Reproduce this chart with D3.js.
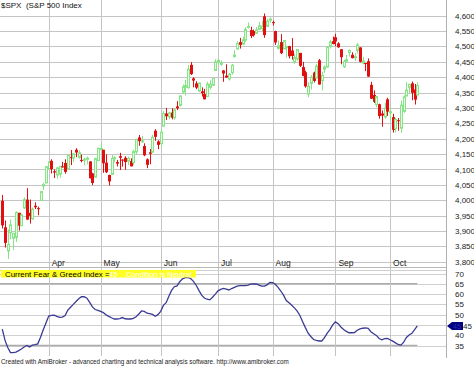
<!DOCTYPE html>
<html><head><meta charset="utf-8">
<script src="https://cdn.jsdelivr.net/npm/d3@7/dist/d3.min.js"></script>
<style>html,body{margin:0;padding:0;background:#fff;overflow:hidden}svg{display:block}text{font-family:Arial,"Liberation Sans",sans-serif;white-space:pre}</style>
</head><body><svg id="c" width="474" height="366"></svg>
<script>
const dates = [
"2023-03-09","2023-03-10","2023-03-13","2023-03-14","2023-03-15","2023-03-16","2023-03-17","2023-03-20","2023-03-21","2023-03-22","2023-03-23","2023-03-24","2023-03-27","2023-03-28","2023-03-29","2023-03-30","2023-03-31",
"2023-04-03","2023-04-04","2023-04-05","2023-04-06","2023-04-10","2023-04-11","2023-04-12","2023-04-13","2023-04-14","2023-04-17","2023-04-18","2023-04-19","2023-04-20","2023-04-21","2023-04-24","2023-04-25","2023-04-26","2023-04-27","2023-04-28",
"2023-05-01","2023-05-02","2023-05-03","2023-05-04","2023-05-05","2023-05-08","2023-05-09","2023-05-10","2023-05-11","2023-05-12","2023-05-15","2023-05-16","2023-05-17","2023-05-18","2023-05-19","2023-05-22","2023-05-23","2023-05-24","2023-05-25","2023-05-26","2023-05-30","2023-05-31",
"2023-06-01","2023-06-02","2023-06-05","2023-06-06","2023-06-07","2023-06-08","2023-06-09","2023-06-12","2023-06-13","2023-06-14","2023-06-15","2023-06-16","2023-06-20","2023-06-21","2023-06-22","2023-06-23","2023-06-26","2023-06-27","2023-06-28","2023-06-29","2023-06-30",
"2023-07-03","2023-07-05","2023-07-06","2023-07-07","2023-07-10","2023-07-11","2023-07-12","2023-07-13","2023-07-14","2023-07-17","2023-07-18","2023-07-19","2023-07-20","2023-07-21","2023-07-24","2023-07-25","2023-07-26","2023-07-27","2023-07-28","2023-07-31",
"2023-08-01","2023-08-02","2023-08-03","2023-08-04","2023-08-07","2023-08-08","2023-08-09","2023-08-10","2023-08-11","2023-08-14","2023-08-15","2023-08-16","2023-08-17","2023-08-18","2023-08-21","2023-08-22","2023-08-23","2023-08-24","2023-08-25","2023-08-28","2023-08-29","2023-08-30","2023-08-31",
"2023-09-01","2023-09-05","2023-09-06","2023-09-07","2023-09-08","2023-09-11","2023-09-12","2023-09-13","2023-09-14","2023-09-15","2023-09-18","2023-09-19","2023-09-20","2023-09-21","2023-09-22","2023-09-25","2023-09-26","2023-09-27","2023-09-28","2023-09-29",
"2023-10-02","2023-10-03","2023-10-04","2023-10-05","2023-10-06","2023-10-09","2023-10-10","2023-10-11","2023-10-12","2023-10-13","2023-10-16"];

const open = [3998,3912,3835,3894,3876,3879,3959,3917,3975,4002,3959,3939,3982,3974,3999,4046,4056,
4102,4128,4094,4082,4085,4110,4121,4101,4140,4137,4164,4139,4131,4132,4133,4126,4087,4075,4129,
4166,4164,4122,4082,4084,4136,4124,4143,4132,4138,4127,4127,4122,4157,4204,4191,4176,4133,4156,4156,4226,4191,
4184,4241,4282,4271,4285,4268,4305,4308,4352,4367,4366,4440,4396,4380,4355,4354,4345,4337,4367,4374,4422,
4450,4442,4422,4405,4394,4415,4467,4492,4514,4508,4521,4563,4553,4550,4543,4556,4558,4598,4565,4585,
4579,4550,4494,4514,4492,4498,4501,4487,4450,4459,4479,4433,4416,4345,4380,4415,4397,4455,4389,4426,4433,4500,4517,
4530,4510,4491,4434,4452,4480,4473,4463,4487,4497,4446,4446,4452,4375,4342,4311,4312,4282,4270,4328,
4284,4270,4233,4260,4234,4289,4339,4367,4380,4360,4342];
const high = [4017,3934,3905,3937,3894,3964,3959,3956,4009,4039,4002,3976,3993,3979,4030,4057,4110,
4128,4133,4100,4108,4110,4125,4133,4150,4163,4152,4169,4162,4148,4138,4142,4127,4089,4138,4170,
4187,4164,4149,4083,4147,4143,4131,4154,4133,4143,4142,4136,4164,4198,4212,4209,4185,4136,4166,4213,4231,4195,
4232,4290,4300,4288,4299,4298,4322,4340,4376,4391,4439,4449,4400,4387,4383,4367,4362,4385,4390,4398,4458,
4456,4454,4423,4442,4413,4443,4488,4517,4528,4532,4562,4578,4564,4555,4563,4580,4583,4607,4590,4595,
4584,4551,4519,4540,4520,4503,4502,4527,4476,4490,4479,4450,4421,4384,4407,4418,4443,4459,4418,4439,4500,4521,4532,
4541,4514,4491,4457,4473,4490,4481,4479,4511,4497,4466,4446,4461,4385,4357,4338,4314,4292,4317,4333,
4300,4281,4268,4267,4324,4341,4385,4378,4386,4378,4383];
const low = [3908,3846,3809,3873,3838,3864,3901,3917,3971,3936,3924,3937,3971,3951,3999,4033,4056,
4101,4087,4072,4070,4073,4106,4086,4099,4114,4124,4140,4135,4123,4113,4117,4071,4049,4075,4128,
4164,4089,4088,4048,4084,4123,4110,4098,4109,4099,4114,4110,4114,4150,4177,4186,4143,4104,4117,4155,4193,4166,
4173,4241,4261,4263,4263,4262,4293,4305,4346,4340,4362,4407,4367,4361,4352,4337,4328,4336,4360,4372,4422,
4443,4437,4385,4398,4389,4408,4464,4489,4493,4504,4515,4558,4527,4532,4541,4553,4547,4528,4564,4577,
4568,4505,4490,4475,4492,4464,4461,4457,4443,4453,4433,4403,4366,4335,4360,4383,4397,4376,4357,4414,4431,4493,4507,
4501,4496,4442,4430,4448,4467,4461,4453,4477,4448,4442,4420,4401,4329,4316,4302,4265,4239,4265,4274,
4260,4220,4220,4226,4219,4284,4339,4346,4325,4311,4342];
const close = [3918,3861,3856,3920,3892,3960,3917,3952,4002,3937,3949,3971,3977,3971,4028,4051,4109,
4125,4101,4090,4105,4110,4109,4092,4146,4138,4151,4155,4154,4130,4133,4137,4071,4056,4135,4169,
4168,4120,4091,4061,4136,4138,4119,4138,4131,4124,4136,4110,4158,4198,4192,4193,4146,4115,4151,4205,4206,4180,
4221,4282,4273,4284,4268,4294,4299,4339,4369,4373,4426,4410,4389,4366,4381,4348,4328,4378,4377,4396,4450,
4455,4447,4412,4399,4410,4439,4472,4510,4505,4522,4555,4565,4534,4536,4554,4567,4566,4537,4582,4589,
4577,4513,4502,4478,4519,4499,4468,4469,4464,4490,4437,4404,4370,4370,4400,4388,4436,4376,4406,4433,4497,4515,4508,
4516,4497,4465,4451,4457,4487,4462,4467,4505,4450,4453,4444,4402,4330,4320,4337,4274,4275,4300,4288,
4288,4229,4263,4258,4309,4336,4358,4377,4349,4327,4373];

const fearGreed = [43,37.5,34,31.6,31.5,31.8,32.5,33.3,34.3,35,34.3,35.2,35.4,35.8,39,42.7,46,
49.3,49.7,49.8,49.2,48.7,48.8,49.6,52.2,53.6,55,56.4,57.7,58.7,58.7,58,56,53.8,52.5,52.1,
51.6,51,49.9,49.2,48.5,47.9,47.9,48.1,48.6,48,47.9,47.9,48.2,49,50.3,51.8,51.6,50.7,50.5,50.1,49.2,50,
51.6,54.5,55.8,59,61.8,63.6,64,66,67.4,68,68,67.6,66.2,64.3,61.8,59.5,58.1,57.5,57.2,58.5,60,
61.6,62.3,62.8,62.4,62,62.7,63.3,63.9,64.1,64.1,64.1,64.4,64.8,64.9,64.9,64.4,63.9,63.9,64.5,65.7,
65.6,64.8,63.3,61.5,59.5,56.9,55.8,54.6,53.3,51.7,49.6,46.6,43.7,41,39.4,37.9,37.5,37.2,37.2,38.8,41,42.7,45,
46.5,45.6,44,42.8,41.9,41.2,41.2,41.3,42.4,43.1,43.4,43.6,43.3,41.7,40.7,39.9,38.4,37.8,38.3,38.4,
37.8,37.1,36.3,35.5,35.2,36.6,38.9,40.1,40.9,42.7,44.5];

const priceTicks = [3800,3850,3900,3950,4000,4050,4100,4150,4200,4250,4300,4350,4400,4450,4500,4550,4600];
const fgTicks = [35,40,45,50,55,60,65,70];
const fgBands = [65,35];
const monthNames = ["Jan","Feb","Mar","Apr","May","Jun","Jul","Aug","Sep","Oct","Nov","Dec"];
const title = "$SPX  (S&P 500 Index";
const legendLabel = "Current Fear & Greed Index =";
const legendValue = "45";
const legendCondition = "Condition is Neutral";
const footer = "Created with AmiBroker - advanced charting and technical analysis software. http://www.amibroker.com";

const svg = d3.select("#c");
const W = 446, upBot = 267, loTop = 270, loBot = 356;
const x = d3.scaleLinear().domain([-0.84, 162.5]).range([0, W]);
const yP = d3.scaleLinear().domain([3779.5, 4651]).range([268, 0]);
const yF = d3.scaleLinear().domain([29.9, 72.2]).range([356, 269]);
const grid = "#c4c4c4";

const monthStarts = [];
dates.forEach((d,i)=>{ if(i>0 && d.slice(5,7)!==dates[i-1].slice(5,7)) monthStarts.push(i); });

svg.append("g").selectAll("line").data(priceTicks).join("line")
  .attr("x1",0).attr("x2",W).attr("y1",d=>Math.round(yP(d))+0.5).attr("y2",d=>Math.round(yP(d))+0.5)
  .attr("stroke",grid).attr("stroke-width",1);
svg.append("g").selectAll("line").data(fgTicks).join("line")
  .attr("x1",0).attr("x2",W).attr("y1",d=>Math.round(yF(d))+0.5).attr("y2",d=>Math.round(yF(d))+0.5)
  .attr("stroke","#d0d0d0").attr("stroke-width",1);
svg.append("g").selectAll("line").data(fgBands).join("line")
  .attr("x1",0).attr("x2",x(dates.length-1)).attr("y1",d=>yF(d)).attr("y2",d=>yF(d))
  .attr("stroke","#ababab").attr("stroke-width",1.6);
svg.append("g").selectAll("line").data(monthStarts).join("line")
  .attr("x1",d=>Math.round(x(d))+0.5).attr("x2",d=>Math.round(x(d))+0.5).attr("y1",0).attr("y2",loBot)
  .attr("stroke",grid);
svg.append("line").attr("x1",0).attr("x2",W).attr("y1",upBot+0.5).attr("y2",upBot+0.5).attr("stroke","#b8b8b8");
svg.append("line").attr("x1",0).attr("x2",W).attr("y1",loTop+0.5).attr("y2",loTop+0.5).attr("stroke","#d0d0d0");
svg.append("line").attr("x1",W+0.5).attr("x2",W+0.5).attr("y1",0).attr("y2",loBot+2).attr("stroke","#b0b0b0");

svg.append("g").selectAll("text").data(monthStarts).join("text")
  .attr("x",d=>x(d)+3).attr("y",266).attr("font-size",8.5).attr("fill","#222")
  .text(d=>monthNames[+dates[d].slice(5,7)-1]);

const idx = d3.range(dates.length);
const up = i => close[i] > open[i];
const gC = svg.append("g");
gC.selectAll("line").data(idx).join("line")
  .attr("x1",i=>Math.round(x(i))+0.5).attr("x2",i=>Math.round(x(i))+0.5)
  .attr("y1",i=>yP(high[i])).attr("y2",i=>yP(low[i]))
  .attr("stroke",i=>up(i)?"#86e486":"#e01010").attr("stroke-width",1);
gC.selectAll("rect").data(idx).join("rect")
  .attr("x",i=>up(i)?Math.round(x(i))-0.5:Math.round(x(i))-1)
  .attr("width",i=>up(i)?2:3)
  .attr("y",i=>yP(Math.max(open[i],close[i])))
  .attr("height",i=>Math.max(1,Math.abs(yP(open[i])-yP(close[i]))))
  .attr("fill",i=>up(i)?"#eafcea":"#e01010")
  .attr("stroke",i=>up(i)?"#86e486":"none").attr("stroke-width",1);

const axP = svg.append("g").attr("transform",`translate(${W},0)`)
  .call(d3.axisRight(yP).tickValues(priceTicks).tickSize(0).tickPadding(9).tickFormat(d3.format(",")));
axP.select(".domain").remove();
axP.selectAll("text").attr("font-size",8).attr("fill","#222").attr("font-family","Arial, 'Liberation Sans', sans-serif");

svg.append("path").datum(idx)
  .attr("d", d3.line().x(i=>x(i)).y(i=>yF(fearGreed[i])))
  .attr("fill","none").attr("stroke","#3b3b94").attr("stroke-width",1.3);

const axF = svg.append("g").attr("transform",`translate(${W},0)`)
  .call(d3.axisRight(yF).tickValues(fgTicks).tickSize(0).tickPadding(9));
axF.select(".domain").remove();
axF.selectAll("text").attr("font-size",8).attr("fill","#222").attr("font-family","Arial, 'Liberation Sans', sans-serif");
axF.selectAll(".tick").filter(d=>d===45).remove();

const lastV = fearGreed[fearGreed.length-1];
const ty = yF(lastV);
svg.append("path").attr("d",`M${W+1},${ty} L${W+6},${ty-4} L${W+17},${ty-4} L${W+17},${ty+4} L${W+6},${ty+4} Z`)
  .attr("fill","#000080");
svg.append("text").attr("x",W+7).attr("y",ty+2.8).attr("font-size",7).attr("fill","#2a2ab0").text(legendValue);
svg.append("text").attr("x",W+17).attr("y",ty+2.8).attr("font-size",8).attr("fill","#222").text(legendValue);

svg.append("rect").attr("x",1).attr("y",270).attr("width",195).attr("height",7.5).attr("fill","#ffff22");
svg.append("text").attr("x",5).attr("y",277).attr("font-size",7.9).attr("fill","#000").text(legendLabel);
svg.append("text").attr("x",109).attr("y",277).attr("font-size",7.5).attr("fill","#fff").text(legendValue);
svg.append("text").attr("x",126).attr("y",277).attr("font-size",7.5).attr("fill","#fff").text(legendCondition);

svg.append("text").attr("x",1).attr("y",8).attr("font-size",8).attr("fill","#111").text(title);
svg.append("text").attr("x",1).attr("y",364).attr("font-size",6.3).attr("fill","#222").text(footer);
</script></body></html>
